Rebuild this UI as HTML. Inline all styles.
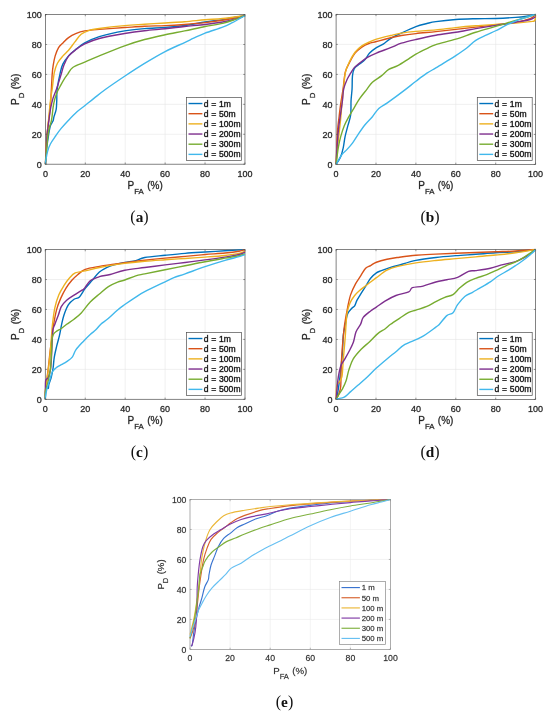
<!DOCTYPE html>
<html><head><meta charset="utf-8"><title>ROC curves</title>
<style>
html,body{margin:0;padding:0;background:#fff;}
body{width:550px;height:716px;overflow:hidden;}
svg{display:block;}
text{font-family:"Liberation Sans",Arial,Helvetica,sans-serif;fill:#222;stroke:#222;stroke-width:0.45;stroke-opacity:0.55;}
.grid{stroke:#e6e6e6;stroke-width:0.6;}
.box{fill:none;stroke:#5a5a5a;stroke-width:0.75;}
.tick{stroke:#4d4d4d;stroke-width:0.6;}
.leg{fill:#fff;stroke:#4d4d4d;stroke-width:0.7;}
.lt{fill:#0a0a0a;stroke:#0a0a0a;stroke-width:0.5;stroke-opacity:0.6;word-spacing:0.4px;}
.e text{fill:#2e2e2e;stroke:#2e2e2e;stroke-width:0.3;stroke-opacity:0.55;word-spacing:0;}
.e .box,.e .leg{stroke:#8a8a8a;stroke-width:0.7;}
.e .tick{stroke:#8a8a8a;}
.e .grid{stroke:#ebebeb;}
.e .cap{fill:#111;stroke:none;}
.cap{font-family:"Liberation Serif","DejaVu Serif",serif;font-size:15.3px;fill:#111;stroke:none;}
</style></head>
<body>
<svg width="550" height="716" viewBox="0 0 550 716">
<rect x="0" y="0" width="550" height="716" fill="#fff"/>
<g class="">
<rect x="45.40" y="14.55" width="199.55" height="149.65" fill="#fff"/>
<line x1="85.31" y1="14.55" x2="85.31" y2="164.20" class="grid"/>
<line x1="45.40" y1="44.48" x2="244.95" y2="44.48" class="grid"/>
<line x1="125.22" y1="14.55" x2="125.22" y2="164.20" class="grid"/>
<line x1="45.40" y1="74.41" x2="244.95" y2="74.41" class="grid"/>
<line x1="165.13" y1="14.55" x2="165.13" y2="164.20" class="grid"/>
<line x1="45.40" y1="104.34" x2="244.95" y2="104.34" class="grid"/>
<line x1="205.04" y1="14.55" x2="205.04" y2="164.20" class="grid"/>
<line x1="45.40" y1="134.27" x2="244.95" y2="134.27" class="grid"/>
<rect x="45.40" y="14.55" width="199.55" height="149.65" class="box"/>
<clipPath id="cp1"><rect x="44.40" y="13.55" width="201.55" height="151.65"/></clipPath>
<g clip-path="url(#cp1)" fill="none" stroke-width="1.40" stroke-linejoin="round" stroke-linecap="butt">
<path d="M45.40 164.20C45.63 161.46 46.26 152.63 46.80 147.74C47.33 142.85 47.99 138.54 48.59 134.87C49.19 131.20 49.66 128.03 50.39 125.74C51.12 123.45 52.38 122.62 52.98 121.10C53.58 119.58 53.45 118.58 53.98 116.61C54.51 114.64 55.71 112.02 56.18 109.28C56.64 106.53 56.61 103.52 56.77 100.15C56.94 96.78 56.57 93.74 57.17 89.08C57.77 84.41 59.40 76.36 60.37 72.17C61.33 67.98 61.60 66.65 62.96 63.93C64.32 61.22 66.42 58.27 68.55 55.85C70.68 53.43 73.04 51.56 75.73 49.42C78.43 47.27 80.79 45.10 84.71 42.98C88.64 40.86 92.63 38.72 99.28 36.70C105.93 34.68 117.07 32.21 124.62 30.86C132.17 29.52 137.82 29.19 144.58 28.62C151.33 28.04 158.46 27.94 165.13 27.42C171.80 26.90 177.93 26.37 184.59 25.47C191.24 24.58 198.70 23.01 205.04 22.03C211.38 21.06 217.55 20.46 222.60 19.64C227.66 18.82 231.65 17.77 235.37 17.09C239.10 16.42 243.35 15.85 244.95 15.60" stroke="#0072BD"/>
<path d="M45.40 164.20C45.67 159.31 46.36 142.80 47.00 134.87C47.63 126.94 48.59 121.95 49.19 116.61C49.79 111.27 50.22 107.43 50.59 102.84C50.95 98.25 51.12 93.81 51.39 89.08C51.65 84.34 51.89 78.35 52.18 74.41C52.48 70.47 52.68 68.52 53.18 65.43C53.68 62.34 54.28 58.82 55.18 55.85C56.08 52.89 57.27 49.77 58.57 47.62C59.87 45.48 61.30 44.65 62.96 42.98C64.62 41.31 66.42 39.17 68.55 37.60C70.68 36.02 73.04 34.68 75.73 33.56C78.43 32.43 80.79 31.56 84.71 30.86C88.64 30.16 92.63 29.91 99.28 29.37C105.93 28.82 117.07 28.09 124.62 27.57C132.17 27.05 137.82 26.55 144.58 26.22C151.33 25.90 158.46 25.92 165.13 25.62C171.80 25.32 177.93 24.93 184.59 24.43C191.24 23.93 198.70 23.33 205.04 22.63C211.38 21.93 217.55 21.03 222.60 20.24C227.66 19.44 231.65 18.62 235.37 17.84C239.10 17.07 243.35 15.97 244.95 15.60" stroke="#D95319"/>
<path d="M45.40 164.20C45.57 160.83 45.97 150.41 46.40 144.00C46.83 137.59 47.50 131.23 47.99 125.74C48.49 120.25 48.91 115.89 49.39 111.07C49.87 106.26 50.42 100.52 50.89 96.86C51.35 93.19 51.60 93.19 52.18 89.08C52.77 84.96 53.48 76.51 54.38 72.17C55.28 67.83 56.14 65.76 57.57 63.04C59.00 60.32 61.13 57.97 62.96 55.85C64.79 53.73 66.59 52.61 68.55 50.32C70.51 48.02 72.64 44.75 74.73 42.09C76.83 39.42 78.82 36.22 81.12 34.30C83.41 32.38 85.48 31.54 88.50 30.56C91.53 29.59 93.26 29.29 99.28 28.47C105.30 27.64 117.07 26.32 124.62 25.62C132.17 24.93 137.82 24.73 144.58 24.28C151.33 23.83 158.46 23.35 165.13 22.93C171.80 22.51 177.93 22.26 184.59 21.73C191.24 21.21 198.70 20.34 205.04 19.79C211.38 19.24 215.95 19.14 222.60 18.44C229.25 17.74 241.23 16.07 244.95 15.60" stroke="#EDB120"/>
<path d="M45.40 164.20C45.67 159.61 46.53 143.07 47.00 136.66C47.46 130.25 47.79 129.08 48.19 125.74C48.59 122.40 48.96 119.65 49.39 116.61C49.82 113.57 50.19 110.53 50.79 107.48C51.39 104.44 52.05 101.37 52.98 98.35C53.91 95.34 55.44 91.99 56.38 89.38C57.31 86.76 57.77 85.13 58.57 82.64C59.37 80.15 60.27 77.35 61.16 74.41C62.06 71.47 62.73 68.02 63.96 64.98C65.19 61.94 66.59 58.70 68.55 56.15C70.51 53.61 73.04 51.76 75.73 49.72C78.43 47.67 80.79 45.75 84.71 43.88C88.64 42.01 92.63 40.21 99.28 38.49C105.93 36.77 117.07 34.85 124.62 33.56C132.17 32.26 137.82 31.51 144.58 30.71C151.33 29.91 158.46 29.47 165.13 28.77C171.80 28.07 177.93 27.25 184.59 26.52C191.24 25.80 198.70 25.18 205.04 24.43C211.38 23.68 217.55 22.93 222.60 22.03C227.66 21.13 231.65 20.11 235.37 19.04C239.10 17.97 243.35 16.17 244.95 15.60" stroke="#7E2F8E"/>
<path d="M45.40 164.20C45.77 159.91 46.93 144.57 47.60 138.46C48.26 132.35 48.73 130.63 49.39 127.54C50.06 124.44 50.89 123.77 51.59 119.90C52.28 116.04 52.75 108.73 53.58 104.34C54.41 99.95 55.38 96.76 56.57 93.57C57.77 90.37 59.47 87.63 60.77 85.18C62.06 82.74 63.19 80.75 64.36 78.90C65.52 77.05 66.35 76.01 67.75 74.11C69.15 72.22 69.91 69.52 72.74 67.53C75.57 65.53 80.29 64.08 84.71 62.14C89.13 60.19 92.63 58.57 99.28 55.85C105.93 53.13 117.07 48.55 124.62 45.83C132.17 43.11 137.82 41.39 144.58 39.54C151.33 37.70 158.46 36.20 165.13 34.75C171.80 33.31 177.93 32.23 184.59 30.86C191.24 29.49 198.70 27.77 205.04 26.52C211.38 25.27 217.55 24.58 222.60 23.38C227.66 22.18 231.65 20.64 235.37 19.34C239.10 18.04 243.35 16.22 244.95 15.60" stroke="#77AC30"/>
<path d="M45.40 164.20C45.47 163.58 45.43 162.60 45.80 160.46C46.16 158.31 46.83 154.07 47.60 151.33C48.36 148.59 49.03 146.59 50.39 144.00C51.75 141.40 53.98 138.36 55.78 135.77C57.57 133.17 59.04 131.03 61.16 128.43C63.29 125.84 65.95 122.95 68.55 120.20C71.14 117.46 74.04 114.39 76.73 111.97C79.42 109.55 81.85 107.96 84.71 105.69C87.57 103.42 90.40 101.10 93.89 98.35C97.38 95.61 100.54 92.92 105.66 89.23C110.79 85.53 118.14 80.52 124.62 76.21C131.11 71.89 137.82 67.45 144.58 63.34C151.33 59.22 158.46 54.98 165.13 51.51C171.80 48.05 179.83 44.75 184.59 42.53C189.34 40.31 190.26 39.77 193.67 38.19C197.07 36.62 200.22 34.95 205.04 33.11C209.86 31.26 218.14 28.82 222.60 27.12C227.06 25.42 228.89 24.38 231.78 22.93C234.67 21.48 237.77 19.64 239.96 18.44C242.16 17.24 244.12 16.20 244.95 15.75" stroke="#41B8EC"/>
</g>
<line x1="45.40" y1="164.20" x2="45.40" y2="162.50" class="tick"/>
<line x1="45.40" y1="14.55" x2="45.40" y2="16.25" class="tick"/>
<line x1="45.40" y1="164.20" x2="47.10" y2="164.20" class="tick"/>
<line x1="244.95" y1="164.20" x2="243.25" y2="164.20" class="tick"/>
<text x="45.40" y="176.60" font-size="9.00" text-anchor="middle">0</text>
<text x="41.80" y="167.50" font-size="9.00" text-anchor="end">0</text>
<line x1="85.31" y1="164.20" x2="85.31" y2="162.50" class="tick"/>
<line x1="85.31" y1="14.55" x2="85.31" y2="16.25" class="tick"/>
<line x1="45.40" y1="134.27" x2="47.10" y2="134.27" class="tick"/>
<line x1="244.95" y1="134.27" x2="243.25" y2="134.27" class="tick"/>
<text x="85.31" y="176.60" font-size="9.00" text-anchor="middle">20</text>
<text x="41.80" y="137.57" font-size="9.00" text-anchor="end">20</text>
<line x1="125.22" y1="164.20" x2="125.22" y2="162.50" class="tick"/>
<line x1="125.22" y1="14.55" x2="125.22" y2="16.25" class="tick"/>
<line x1="45.40" y1="104.34" x2="47.10" y2="104.34" class="tick"/>
<line x1="244.95" y1="104.34" x2="243.25" y2="104.34" class="tick"/>
<text x="125.22" y="176.60" font-size="9.00" text-anchor="middle">40</text>
<text x="41.80" y="107.64" font-size="9.00" text-anchor="end">40</text>
<line x1="165.13" y1="164.20" x2="165.13" y2="162.50" class="tick"/>
<line x1="165.13" y1="14.55" x2="165.13" y2="16.25" class="tick"/>
<line x1="45.40" y1="74.41" x2="47.10" y2="74.41" class="tick"/>
<line x1="244.95" y1="74.41" x2="243.25" y2="74.41" class="tick"/>
<text x="165.13" y="176.60" font-size="9.00" text-anchor="middle">60</text>
<text x="41.80" y="77.71" font-size="9.00" text-anchor="end">60</text>
<line x1="205.04" y1="164.20" x2="205.04" y2="162.50" class="tick"/>
<line x1="205.04" y1="14.55" x2="205.04" y2="16.25" class="tick"/>
<line x1="45.40" y1="44.48" x2="47.10" y2="44.48" class="tick"/>
<line x1="244.95" y1="44.48" x2="243.25" y2="44.48" class="tick"/>
<text x="205.04" y="176.60" font-size="9.00" text-anchor="middle">80</text>
<text x="41.80" y="47.78" font-size="9.00" text-anchor="end">80</text>
<line x1="244.95" y1="164.20" x2="244.95" y2="162.50" class="tick"/>
<line x1="244.95" y1="14.55" x2="244.95" y2="16.25" class="tick"/>
<line x1="45.40" y1="14.55" x2="47.10" y2="14.55" class="tick"/>
<line x1="244.95" y1="14.55" x2="243.25" y2="14.55" class="tick"/>
<text x="244.95" y="176.60" font-size="9.00" text-anchor="middle">100</text>
<text x="41.80" y="17.85" font-size="9.00" text-anchor="end">100</text>
<text x="145.18" y="189.20" font-size="10.00" text-anchor="middle">P<tspan font-size="7.80" dy="4.8">FA</tspan><tspan dy="-4.8" dx="0.6"> (%)</tspan></text>
<text transform="translate(19.00 89.38) rotate(-90)" font-size="10.00" text-anchor="middle">P<tspan font-size="7.80" dy="4.8">D</tspan><tspan dy="-4.8" dx="0.6"> (%)</tspan></text>
<rect x="186.50" y="97.45" width="54.90" height="63.00" class="leg"/>
<line x1="188.50" y1="103.53" x2="202.40" y2="103.53" stroke="#0072BD" stroke-width="1.40"/>
<text x="203.70" y="106.59" font-size="8.60" class="lt">d = 1m</text>
<line x1="188.50" y1="113.70" x2="202.40" y2="113.70" stroke="#D95319" stroke-width="1.40"/>
<text x="203.70" y="116.75" font-size="8.60" class="lt">d = 50m</text>
<line x1="188.50" y1="123.87" x2="202.40" y2="123.87" stroke="#EDB120" stroke-width="1.40"/>
<text x="203.70" y="126.92" font-size="8.60" class="lt">d = 100m</text>
<line x1="188.50" y1="134.03" x2="202.40" y2="134.03" stroke="#7E2F8E" stroke-width="1.40"/>
<text x="203.70" y="137.09" font-size="8.60" class="lt">d = 200m</text>
<line x1="188.50" y1="144.20" x2="202.40" y2="144.20" stroke="#77AC30" stroke-width="1.40"/>
<text x="203.70" y="147.25" font-size="8.60" class="lt">d = 300m</text>
<line x1="188.50" y1="154.37" x2="202.40" y2="154.37" stroke="#41B8EC" stroke-width="1.40"/>
<text x="203.70" y="157.42" font-size="8.60" class="lt">d = 500m</text>
<text x="139.50" y="222.00" class="cap" text-anchor="middle"><tspan font-size="16">(</tspan><tspan font-weight="bold">a</tspan><tspan font-size="16">)</tspan></text>
</g>
<g class="">
<rect x="336.10" y="14.40" width="199.50" height="150.00" fill="#fff"/>
<line x1="376.00" y1="14.40" x2="376.00" y2="164.40" class="grid"/>
<line x1="336.10" y1="44.40" x2="535.60" y2="44.40" class="grid"/>
<line x1="415.90" y1="14.40" x2="415.90" y2="164.40" class="grid"/>
<line x1="336.10" y1="74.40" x2="535.60" y2="74.40" class="grid"/>
<line x1="455.80" y1="14.40" x2="455.80" y2="164.40" class="grid"/>
<line x1="336.10" y1="104.40" x2="535.60" y2="104.40" class="grid"/>
<line x1="495.70" y1="14.40" x2="495.70" y2="164.40" class="grid"/>
<line x1="336.10" y1="134.40" x2="535.60" y2="134.40" class="grid"/>
<rect x="336.10" y="14.40" width="199.50" height="150.00" class="box"/>
<clipPath id="cp2"><rect x="335.10" y="13.40" width="201.50" height="152.00"/></clipPath>
<g clip-path="url(#cp2)" fill="none" stroke-width="1.40" stroke-linejoin="round" stroke-linecap="butt">
<path d="M336.10 164.40C336.86 163.10 339.49 159.40 340.69 156.60C341.89 153.80 342.55 150.92 343.28 147.60C344.01 144.28 344.31 140.30 345.08 136.65C345.84 133.00 346.94 129.32 347.87 125.70C348.80 122.08 350.13 119.12 350.66 114.90C351.20 110.68 350.83 104.68 351.06 100.35C351.30 96.03 351.83 93.03 352.06 88.95C352.29 84.88 352.09 79.30 352.46 75.90C352.82 72.50 353.06 70.53 354.25 68.55C355.45 66.58 357.85 65.55 359.64 64.05C361.44 62.55 363.37 61.38 365.03 59.55C366.69 57.73 367.72 55.08 369.62 53.10C371.51 51.13 374.14 49.20 376.40 47.70C378.66 46.20 380.82 45.63 383.18 44.10C385.54 42.58 387.54 40.38 390.56 38.55C393.59 36.73 397.11 35.13 401.34 33.15C405.56 31.18 411.64 28.30 415.90 26.70C420.16 25.10 423.55 24.40 426.87 23.55C430.20 22.70 431.03 22.27 435.85 21.60C440.67 20.92 449.15 19.97 455.80 19.50C462.45 19.03 469.10 18.92 475.75 18.75C482.40 18.58 489.05 18.68 495.70 18.45C502.35 18.23 510.50 17.78 515.65 17.40C520.80 17.03 523.30 16.70 526.62 16.20C529.95 15.70 534.10 14.70 535.60 14.40" stroke="#0072BD"/>
<path d="M336.10 164.40C336.33 158.90 337.03 139.05 337.50 131.40C337.96 123.75 338.36 123.08 338.89 118.50C339.43 113.92 339.99 108.88 340.69 103.95C341.39 99.03 342.32 94.25 343.08 88.95C343.85 83.65 344.18 76.60 345.28 72.15C346.37 67.70 348.04 65.42 349.67 62.25C351.30 59.08 353.02 55.63 355.05 53.10C357.08 50.58 359.54 48.70 361.84 47.10C364.13 45.50 366.39 44.42 368.82 43.50C371.25 42.58 372.77 42.50 376.40 41.55C380.02 40.60 386.41 38.80 390.56 37.80C394.72 36.80 397.11 36.25 401.34 35.55C405.56 34.85 410.15 34.25 415.90 33.60C421.65 32.95 429.20 32.35 435.85 31.65C442.50 30.95 449.15 30.15 455.80 29.40C462.45 28.65 469.10 27.90 475.75 27.15C482.40 26.40 489.05 25.73 495.70 24.90C502.35 24.08 509.90 23.25 515.65 22.20C521.40 21.15 526.89 19.90 530.21 18.60C533.54 17.30 534.70 15.10 535.60 14.40" stroke="#D95319"/>
<path d="M336.10 164.40C336.27 162.20 336.63 156.13 337.10 151.20C337.56 146.28 338.29 140.30 338.89 134.85C339.49 129.40 340.19 123.65 340.69 118.50C341.19 113.35 341.42 108.88 341.89 103.95C342.35 99.03 342.88 94.25 343.48 88.95C344.08 83.65 344.45 76.75 345.48 72.15C346.51 67.55 348.07 64.68 349.67 61.35C351.26 58.03 353.02 54.78 355.05 52.20C357.08 49.62 359.54 47.58 361.84 45.90C364.13 44.23 366.39 43.28 368.82 42.15C371.25 41.03 372.77 40.25 376.40 39.15C380.02 38.05 386.41 36.55 390.56 35.55C394.72 34.55 397.11 33.85 401.34 33.15C405.56 32.45 410.15 31.90 415.90 31.35C421.65 30.80 429.20 30.47 435.85 29.85C442.50 29.22 449.15 28.27 455.80 27.60C462.45 26.92 469.10 26.33 475.75 25.80C482.40 25.28 489.05 24.90 495.70 24.45C502.35 24.00 509.90 23.57 515.65 23.10C521.40 22.62 527.05 22.00 530.21 21.60C533.37 21.20 533.70 21.73 534.60 20.70C535.50 19.68 535.43 16.33 535.60 15.45" stroke="#EDB120"/>
<path d="M336.10 164.40C336.33 160.40 337.03 146.85 337.50 140.40C337.96 133.95 338.36 130.25 338.89 125.70C339.43 121.15 340.09 117.33 340.69 113.10C341.29 108.88 341.99 104.38 342.48 100.35C342.98 96.33 342.92 92.43 343.68 88.95C344.45 85.47 345.91 82.12 347.07 79.50C348.24 76.88 349.47 75.17 350.66 73.20C351.86 71.23 352.76 69.33 354.25 67.65C355.75 65.98 357.51 64.83 359.64 63.15C361.77 61.48 364.23 59.28 367.02 57.60C369.82 55.93 372.48 54.75 376.40 53.10C380.32 51.45 386.41 49.35 390.56 47.70C394.72 46.05 397.11 44.58 401.34 43.20C405.56 41.83 410.15 40.78 415.90 39.45C421.65 38.12 429.20 36.45 435.85 35.25C442.50 34.05 449.15 33.35 455.80 32.25C462.45 31.15 469.10 29.80 475.75 28.65C482.40 27.50 489.05 26.42 495.70 25.35C502.35 24.27 509.90 23.18 515.65 22.20C521.40 21.23 526.89 20.43 530.21 19.50C533.54 18.57 534.70 17.13 535.60 16.65" stroke="#7E2F8E"/>
<path d="M336.10 164.40C336.47 161.60 337.53 152.22 338.29 147.60C339.06 142.97 339.69 140.30 340.69 136.65C341.69 133.00 342.92 129.03 344.28 125.70C345.64 122.38 347.21 119.72 348.87 116.70C350.53 113.68 352.46 110.58 354.25 107.55C356.05 104.53 357.51 101.63 359.64 98.55C361.77 95.48 364.89 91.83 367.02 89.10C369.15 86.38 370.01 84.40 372.41 82.20C374.80 80.00 378.66 78.03 381.39 75.90C384.11 73.78 386.04 71.15 388.77 69.45C391.49 67.75 394.42 67.47 397.75 65.70C401.07 63.93 405.69 60.73 408.72 58.80C411.74 56.88 412.87 55.85 415.90 54.15C418.93 52.45 423.55 50.18 426.87 48.60C430.20 47.03 431.03 46.28 435.85 44.70C440.67 43.12 449.15 41.23 455.80 39.15C462.45 37.08 469.10 34.38 475.75 32.25C482.40 30.12 489.05 28.38 495.70 26.40C502.35 24.43 510.50 21.93 515.65 20.40C520.80 18.88 523.30 18.25 526.62 17.25C529.95 16.25 534.10 14.88 535.60 14.40" stroke="#77AC30"/>
<path d="M336.10 164.40C336.57 163.58 337.83 161.20 338.89 159.45C339.96 157.70 341.12 155.58 342.48 153.90C343.85 152.22 345.41 151.20 347.07 149.40C348.74 147.60 350.66 145.53 352.46 143.10C354.25 140.67 355.75 137.90 357.85 134.85C359.94 131.80 362.60 127.83 365.03 124.80C367.45 121.78 370.11 119.43 372.41 116.70C374.70 113.97 376.37 110.72 378.79 108.45C381.22 106.18 384.11 105.03 386.97 103.05C389.83 101.08 392.79 98.93 395.95 96.60C399.11 94.28 402.60 91.65 405.93 89.10C409.25 86.55 412.41 83.95 415.90 81.30C419.39 78.65 423.55 75.43 426.87 73.20C430.20 70.97 432.53 69.95 435.85 67.95C439.18 65.95 443.50 63.25 446.82 61.20C450.15 59.15 452.48 57.85 455.80 55.65C459.12 53.45 463.45 50.55 466.77 48.00C470.10 45.45 472.43 42.53 475.75 40.35C479.07 38.18 483.40 36.55 486.72 34.95C490.05 33.35 492.38 32.43 495.70 30.75C499.03 29.07 503.35 26.53 506.67 24.90C510.00 23.28 512.33 22.28 515.65 21.00C518.98 19.72 523.30 18.35 526.62 17.25C529.95 16.15 534.10 14.88 535.60 14.40" stroke="#41B8EC"/>
</g>
<line x1="336.10" y1="164.40" x2="336.10" y2="162.70" class="tick"/>
<line x1="336.10" y1="14.40" x2="336.10" y2="16.10" class="tick"/>
<line x1="336.10" y1="164.40" x2="337.80" y2="164.40" class="tick"/>
<line x1="535.60" y1="164.40" x2="533.90" y2="164.40" class="tick"/>
<text x="336.10" y="176.80" font-size="9.00" text-anchor="middle">0</text>
<text x="332.50" y="167.70" font-size="9.00" text-anchor="end">0</text>
<line x1="376.00" y1="164.40" x2="376.00" y2="162.70" class="tick"/>
<line x1="376.00" y1="14.40" x2="376.00" y2="16.10" class="tick"/>
<line x1="336.10" y1="134.40" x2="337.80" y2="134.40" class="tick"/>
<line x1="535.60" y1="134.40" x2="533.90" y2="134.40" class="tick"/>
<text x="376.00" y="176.80" font-size="9.00" text-anchor="middle">20</text>
<text x="332.50" y="137.70" font-size="9.00" text-anchor="end">20</text>
<line x1="415.90" y1="164.40" x2="415.90" y2="162.70" class="tick"/>
<line x1="415.90" y1="14.40" x2="415.90" y2="16.10" class="tick"/>
<line x1="336.10" y1="104.40" x2="337.80" y2="104.40" class="tick"/>
<line x1="535.60" y1="104.40" x2="533.90" y2="104.40" class="tick"/>
<text x="415.90" y="176.80" font-size="9.00" text-anchor="middle">40</text>
<text x="332.50" y="107.70" font-size="9.00" text-anchor="end">40</text>
<line x1="455.80" y1="164.40" x2="455.80" y2="162.70" class="tick"/>
<line x1="455.80" y1="14.40" x2="455.80" y2="16.10" class="tick"/>
<line x1="336.10" y1="74.40" x2="337.80" y2="74.40" class="tick"/>
<line x1="535.60" y1="74.40" x2="533.90" y2="74.40" class="tick"/>
<text x="455.80" y="176.80" font-size="9.00" text-anchor="middle">60</text>
<text x="332.50" y="77.70" font-size="9.00" text-anchor="end">60</text>
<line x1="495.70" y1="164.40" x2="495.70" y2="162.70" class="tick"/>
<line x1="495.70" y1="14.40" x2="495.70" y2="16.10" class="tick"/>
<line x1="336.10" y1="44.40" x2="337.80" y2="44.40" class="tick"/>
<line x1="535.60" y1="44.40" x2="533.90" y2="44.40" class="tick"/>
<text x="495.70" y="176.80" font-size="9.00" text-anchor="middle">80</text>
<text x="332.50" y="47.70" font-size="9.00" text-anchor="end">80</text>
<line x1="535.60" y1="164.40" x2="535.60" y2="162.70" class="tick"/>
<line x1="535.60" y1="14.40" x2="535.60" y2="16.10" class="tick"/>
<line x1="336.10" y1="14.40" x2="337.80" y2="14.40" class="tick"/>
<line x1="535.60" y1="14.40" x2="533.90" y2="14.40" class="tick"/>
<text x="535.60" y="176.80" font-size="9.00" text-anchor="middle">100</text>
<text x="332.50" y="17.70" font-size="9.00" text-anchor="end">100</text>
<text x="435.85" y="189.40" font-size="10.00" text-anchor="middle">P<tspan font-size="7.80" dy="4.8">FA</tspan><tspan dy="-4.8" dx="0.6"> (%)</tspan></text>
<text transform="translate(309.70 89.40) rotate(-90)" font-size="10.00" text-anchor="middle">P<tspan font-size="7.80" dy="4.8">D</tspan><tspan dy="-4.8" dx="0.6"> (%)</tspan></text>
<rect x="477.30" y="97.45" width="54.90" height="63.00" class="leg"/>
<line x1="479.30" y1="103.53" x2="493.20" y2="103.53" stroke="#0072BD" stroke-width="1.40"/>
<text x="494.50" y="106.59" font-size="8.60" class="lt">d = 1m</text>
<line x1="479.30" y1="113.70" x2="493.20" y2="113.70" stroke="#D95319" stroke-width="1.40"/>
<text x="494.50" y="116.75" font-size="8.60" class="lt">d = 50m</text>
<line x1="479.30" y1="123.87" x2="493.20" y2="123.87" stroke="#EDB120" stroke-width="1.40"/>
<text x="494.50" y="126.92" font-size="8.60" class="lt">d = 100m</text>
<line x1="479.30" y1="134.03" x2="493.20" y2="134.03" stroke="#7E2F8E" stroke-width="1.40"/>
<text x="494.50" y="137.09" font-size="8.60" class="lt">d = 200m</text>
<line x1="479.30" y1="144.20" x2="493.20" y2="144.20" stroke="#77AC30" stroke-width="1.40"/>
<text x="494.50" y="147.25" font-size="8.60" class="lt">d = 300m</text>
<line x1="479.30" y1="154.37" x2="493.20" y2="154.37" stroke="#41B8EC" stroke-width="1.40"/>
<text x="494.50" y="157.42" font-size="8.60" class="lt">d = 500m</text>
<text x="430.00" y="222.00" class="cap" text-anchor="middle"><tspan font-size="16">(</tspan><tspan font-weight="bold">b</tspan><tspan font-size="16">)</tspan></text>
</g>
<g class="">
<rect x="45.30" y="249.60" width="199.70" height="149.70" fill="#fff"/>
<line x1="85.24" y1="249.60" x2="85.24" y2="399.30" class="grid"/>
<line x1="45.30" y1="279.54" x2="245.00" y2="279.54" class="grid"/>
<line x1="125.18" y1="249.60" x2="125.18" y2="399.30" class="grid"/>
<line x1="45.30" y1="309.48" x2="245.00" y2="309.48" class="grid"/>
<line x1="165.12" y1="249.60" x2="165.12" y2="399.30" class="grid"/>
<line x1="45.30" y1="339.42" x2="245.00" y2="339.42" class="grid"/>
<line x1="205.06" y1="249.60" x2="205.06" y2="399.30" class="grid"/>
<line x1="45.30" y1="369.36" x2="245.00" y2="369.36" class="grid"/>
<rect x="45.30" y="249.60" width="199.70" height="149.70" class="box"/>
<clipPath id="cp3"><rect x="44.30" y="248.60" width="201.70" height="151.70"/></clipPath>
<g clip-path="url(#cp3)" fill="none" stroke-width="1.40" stroke-linejoin="round" stroke-linecap="butt">
<path d="M45.30 399.30C45.40 397.43 45.67 390.12 45.90 388.07C46.13 386.03 46.30 386.97 46.70 387.02C47.10 387.07 47.93 388.82 48.30 388.37C48.66 387.92 48.40 386.20 48.89 384.33C49.39 382.46 50.59 379.86 51.29 377.14C51.99 374.42 52.59 371.36 53.09 368.01C53.59 364.67 53.69 360.73 54.29 357.08C54.89 353.44 55.82 349.77 56.68 346.16C57.55 342.54 58.65 339.05 59.48 335.38C60.31 331.71 60.91 327.59 61.68 324.15C62.44 320.71 62.94 317.96 64.07 314.72C65.20 311.48 66.80 307.26 68.47 304.69C70.13 302.12 72.23 300.60 74.06 299.30C75.89 298.00 77.58 298.73 79.45 296.91C81.31 295.08 83.11 291.14 85.24 288.37C87.37 285.60 89.87 283.01 92.23 280.29C94.59 277.57 97.02 274.18 99.42 272.05C101.82 269.93 104.18 268.76 106.61 267.56C109.04 266.37 110.97 265.72 114.00 264.87C117.03 264.02 121.15 263.17 124.78 262.47C128.41 261.78 132.44 261.50 135.76 260.68C139.09 259.85 139.86 258.43 144.75 257.53C149.64 256.64 158.40 255.99 165.12 255.29C171.84 254.59 178.43 253.89 185.09 253.34C191.75 252.79 198.40 252.42 205.06 252.00C211.72 251.57 218.37 251.20 225.03 250.80C231.69 250.40 241.67 249.80 245.00 249.60" stroke="#0072BD"/>
<path d="M45.30 399.30C45.30 398.05 45.07 394.91 45.30 391.81C45.53 388.72 46.17 385.00 46.70 380.74C47.23 376.47 47.90 371.36 48.50 366.22C49.09 361.08 49.66 355.04 50.29 349.90C50.92 344.76 51.72 339.67 52.29 335.38C52.86 331.09 52.96 328.49 53.69 324.15C54.42 319.81 55.52 313.62 56.68 309.33C57.85 305.04 59.15 301.90 60.68 298.40C62.21 294.91 64.01 291.39 65.87 288.37C67.73 285.35 69.90 282.56 71.86 280.29C73.82 278.02 75.42 276.57 77.65 274.75C79.88 272.93 81.61 270.76 85.24 269.36C88.87 267.96 94.63 267.21 99.42 266.37C104.21 265.52 109.77 264.89 114.00 264.27C118.22 263.65 119.65 263.30 124.78 262.62C129.91 261.95 138.03 260.98 144.75 260.23C151.47 259.48 158.40 258.78 165.12 258.13C171.84 257.48 178.43 256.94 185.09 256.34C191.75 255.74 198.40 255.09 205.06 254.54C211.72 253.99 219.37 253.59 225.03 253.04C230.69 252.49 235.68 251.82 239.01 251.25C242.34 250.67 244.00 249.87 245.00 249.60" stroke="#D95319"/>
<path d="M45.30 399.30C45.30 398.05 45.13 394.31 45.30 391.81C45.47 389.32 45.80 388.00 46.30 384.33C46.80 380.66 47.66 374.95 48.30 369.81C48.93 364.67 49.59 358.63 50.09 353.49C50.59 348.35 50.89 343.86 51.29 338.97C51.69 334.08 51.89 329.39 52.49 324.15C53.09 318.91 53.82 312.42 54.89 307.53C55.95 302.64 57.38 298.45 58.88 294.81C60.38 291.17 62.07 288.52 63.87 285.68C65.67 282.83 67.77 279.86 69.66 277.74C71.56 275.62 72.66 274.10 75.25 272.95C77.85 271.81 81.21 271.76 85.24 270.86C89.27 269.96 94.63 268.56 99.42 267.56C104.21 266.57 109.77 265.57 114.00 264.87C118.22 264.17 119.65 263.97 124.78 263.37C129.91 262.77 138.03 261.88 144.75 261.28C151.47 260.68 158.40 260.25 165.12 259.78C171.84 259.31 178.43 258.88 185.09 258.43C191.75 257.98 198.40 257.58 205.06 257.08C211.72 256.59 219.37 256.06 225.03 255.44C230.69 254.81 235.68 254.07 239.01 253.34C242.34 252.62 244.00 251.47 245.00 251.10" stroke="#EDB120"/>
<path d="M45.30 399.30C45.30 397.80 45.23 393.44 45.30 390.32C45.37 387.20 45.20 382.71 45.70 380.59C46.20 378.47 47.50 379.46 48.30 377.59C49.09 375.72 49.99 372.28 50.49 369.36C50.99 366.44 51.06 363.57 51.29 360.08C51.52 356.59 51.72 351.85 51.89 348.40C52.06 344.96 52.12 342.54 52.29 339.42C52.46 336.30 52.46 332.23 52.89 329.69C53.32 327.14 53.95 326.65 54.89 324.15C55.82 321.66 57.42 317.64 58.48 314.72C59.55 311.80 59.91 309.06 61.28 306.64C62.64 304.22 64.54 302.12 66.67 300.20C68.80 298.28 71.63 296.71 74.06 295.11C76.49 293.51 79.58 291.67 81.25 290.62C82.91 289.57 82.54 290.47 84.04 288.82C85.54 287.17 87.67 282.76 90.23 280.74C92.80 278.72 96.09 277.74 99.42 276.70C102.75 275.65 105.98 275.52 110.20 274.45C114.43 273.38 119.02 271.41 124.78 270.26C130.54 269.11 138.03 268.46 144.75 267.56C151.47 266.67 158.40 265.72 165.12 264.87C171.84 264.02 178.43 263.30 185.09 262.47C191.75 261.65 198.40 260.83 205.06 259.93C211.72 259.03 219.37 257.98 225.03 257.08C230.69 256.19 235.68 255.36 239.01 254.54C242.34 253.72 244.00 252.54 245.00 252.14" stroke="#7E2F8E"/>
<path d="M45.30 399.30C45.30 398.05 44.87 394.61 45.30 391.81C45.73 389.02 47.06 386.20 47.90 382.53C48.73 378.87 49.76 373.55 50.29 369.81C50.83 366.07 50.86 363.65 51.09 360.08C51.32 356.51 51.52 351.85 51.69 348.40C51.86 344.96 51.79 341.79 52.09 339.42C52.39 337.05 52.72 335.55 53.49 334.18C54.25 332.81 55.38 332.13 56.68 331.19C57.98 330.24 59.61 329.64 61.28 328.49C62.94 327.34 64.54 325.85 66.67 324.30C68.80 322.75 71.63 321.11 74.06 319.21C76.49 317.31 78.55 315.79 81.25 312.92C83.94 310.05 87.20 305.16 90.23 301.99C93.26 298.83 96.39 296.48 99.42 293.91C102.45 291.34 105.38 288.55 108.41 286.58C111.43 284.60 114.86 283.18 117.59 282.08C120.32 280.99 121.75 281.04 124.78 279.99C127.81 278.94 132.44 276.82 135.76 275.80C139.09 274.77 139.86 274.85 144.75 273.85C149.64 272.85 158.40 271.16 165.12 269.81C171.84 268.46 178.43 267.11 185.09 265.77C191.75 264.42 198.40 263.00 205.06 261.73C211.72 260.45 219.37 259.13 225.03 258.13C230.69 257.13 235.68 256.44 239.01 255.74C242.34 255.04 244.00 254.24 245.00 253.94" stroke="#77AC30"/>
<path d="M45.30 399.30C45.30 399.08 45.07 399.55 45.30 397.95C45.53 396.36 46.00 392.59 46.70 389.72C47.40 386.85 48.56 383.68 49.49 380.74C50.43 377.79 51.22 374.18 52.29 372.05C53.35 369.93 54.39 369.24 55.88 368.01C57.38 366.79 59.48 365.79 61.28 364.72C63.07 363.65 64.84 362.85 66.67 361.58C68.50 360.30 70.73 359.03 72.26 357.08C73.79 355.14 74.06 352.47 75.85 349.90C77.65 347.33 80.65 344.24 83.04 341.67C85.44 339.10 88.10 336.45 90.23 334.48C92.36 332.51 94.06 331.54 95.82 329.84C97.59 328.14 98.85 326.10 100.82 324.30C102.78 322.50 104.81 321.46 107.61 319.06C110.40 316.67 114.73 312.35 117.59 309.93C120.45 307.51 121.75 306.69 124.78 304.54C127.81 302.39 132.44 299.20 135.76 297.05C139.09 294.91 139.86 294.21 144.75 291.67C149.64 289.12 160.26 284.13 165.12 281.79C169.98 279.44 170.58 278.92 173.91 277.59C177.24 276.27 179.90 275.67 185.09 273.85C190.28 272.03 198.40 268.91 205.06 266.67C211.72 264.42 219.37 262.05 225.03 260.38C230.69 258.71 235.68 257.61 239.01 256.64C242.34 255.66 244.00 254.89 245.00 254.54" stroke="#41B8EC"/>
</g>
<line x1="45.30" y1="399.30" x2="45.30" y2="397.60" class="tick"/>
<line x1="45.30" y1="249.60" x2="45.30" y2="251.30" class="tick"/>
<line x1="45.30" y1="399.30" x2="47.00" y2="399.30" class="tick"/>
<line x1="245.00" y1="399.30" x2="243.30" y2="399.30" class="tick"/>
<text x="45.30" y="411.70" font-size="9.00" text-anchor="middle">0</text>
<text x="41.70" y="402.60" font-size="9.00" text-anchor="end">0</text>
<line x1="85.24" y1="399.30" x2="85.24" y2="397.60" class="tick"/>
<line x1="85.24" y1="249.60" x2="85.24" y2="251.30" class="tick"/>
<line x1="45.30" y1="369.36" x2="47.00" y2="369.36" class="tick"/>
<line x1="245.00" y1="369.36" x2="243.30" y2="369.36" class="tick"/>
<text x="85.24" y="411.70" font-size="9.00" text-anchor="middle">20</text>
<text x="41.70" y="372.66" font-size="9.00" text-anchor="end">20</text>
<line x1="125.18" y1="399.30" x2="125.18" y2="397.60" class="tick"/>
<line x1="125.18" y1="249.60" x2="125.18" y2="251.30" class="tick"/>
<line x1="45.30" y1="339.42" x2="47.00" y2="339.42" class="tick"/>
<line x1="245.00" y1="339.42" x2="243.30" y2="339.42" class="tick"/>
<text x="125.18" y="411.70" font-size="9.00" text-anchor="middle">40</text>
<text x="41.70" y="342.72" font-size="9.00" text-anchor="end">40</text>
<line x1="165.12" y1="399.30" x2="165.12" y2="397.60" class="tick"/>
<line x1="165.12" y1="249.60" x2="165.12" y2="251.30" class="tick"/>
<line x1="45.30" y1="309.48" x2="47.00" y2="309.48" class="tick"/>
<line x1="245.00" y1="309.48" x2="243.30" y2="309.48" class="tick"/>
<text x="165.12" y="411.70" font-size="9.00" text-anchor="middle">60</text>
<text x="41.70" y="312.78" font-size="9.00" text-anchor="end">60</text>
<line x1="205.06" y1="399.30" x2="205.06" y2="397.60" class="tick"/>
<line x1="205.06" y1="249.60" x2="205.06" y2="251.30" class="tick"/>
<line x1="45.30" y1="279.54" x2="47.00" y2="279.54" class="tick"/>
<line x1="245.00" y1="279.54" x2="243.30" y2="279.54" class="tick"/>
<text x="205.06" y="411.70" font-size="9.00" text-anchor="middle">80</text>
<text x="41.70" y="282.84" font-size="9.00" text-anchor="end">80</text>
<line x1="245.00" y1="399.30" x2="245.00" y2="397.60" class="tick"/>
<line x1="245.00" y1="249.60" x2="245.00" y2="251.30" class="tick"/>
<line x1="45.30" y1="249.60" x2="47.00" y2="249.60" class="tick"/>
<line x1="245.00" y1="249.60" x2="243.30" y2="249.60" class="tick"/>
<text x="245.00" y="411.70" font-size="9.00" text-anchor="middle">100</text>
<text x="41.70" y="252.90" font-size="9.00" text-anchor="end">100</text>
<text x="145.15" y="424.30" font-size="10.00" text-anchor="middle">P<tspan font-size="7.80" dy="4.8">FA</tspan><tspan dy="-4.8" dx="0.6"> (%)</tspan></text>
<text transform="translate(18.90 324.45) rotate(-90)" font-size="10.00" text-anchor="middle">P<tspan font-size="7.80" dy="4.8">D</tspan><tspan dy="-4.8" dx="0.6"> (%)</tspan></text>
<rect x="186.50" y="332.45" width="54.90" height="63.00" class="leg"/>
<line x1="188.50" y1="338.53" x2="202.40" y2="338.53" stroke="#0072BD" stroke-width="1.40"/>
<text x="203.70" y="341.59" font-size="8.60" class="lt">d = 1m</text>
<line x1="188.50" y1="348.70" x2="202.40" y2="348.70" stroke="#D95319" stroke-width="1.40"/>
<text x="203.70" y="351.75" font-size="8.60" class="lt">d = 50m</text>
<line x1="188.50" y1="358.87" x2="202.40" y2="358.87" stroke="#EDB120" stroke-width="1.40"/>
<text x="203.70" y="361.92" font-size="8.60" class="lt">d = 100m</text>
<line x1="188.50" y1="369.03" x2="202.40" y2="369.03" stroke="#7E2F8E" stroke-width="1.40"/>
<text x="203.70" y="372.09" font-size="8.60" class="lt">d = 200m</text>
<line x1="188.50" y1="379.20" x2="202.40" y2="379.20" stroke="#77AC30" stroke-width="1.40"/>
<text x="203.70" y="382.25" font-size="8.60" class="lt">d = 300m</text>
<line x1="188.50" y1="389.37" x2="202.40" y2="389.37" stroke="#41B8EC" stroke-width="1.40"/>
<text x="203.70" y="392.42" font-size="8.60" class="lt">d = 500m</text>
<text x="139.50" y="457.00" class="cap" text-anchor="middle"><tspan font-size="16">(</tspan><tspan font-weight="bold">c</tspan><tspan font-size="16">)</tspan></text>
</g>
<g class="">
<rect x="336.10" y="249.50" width="199.50" height="149.90" fill="#fff"/>
<line x1="376.00" y1="249.50" x2="376.00" y2="399.40" class="grid"/>
<line x1="336.10" y1="279.48" x2="535.60" y2="279.48" class="grid"/>
<line x1="415.90" y1="249.50" x2="415.90" y2="399.40" class="grid"/>
<line x1="336.10" y1="309.46" x2="535.60" y2="309.46" class="grid"/>
<line x1="455.80" y1="249.50" x2="455.80" y2="399.40" class="grid"/>
<line x1="336.10" y1="339.44" x2="535.60" y2="339.44" class="grid"/>
<line x1="495.70" y1="249.50" x2="495.70" y2="399.40" class="grid"/>
<line x1="336.10" y1="369.42" x2="535.60" y2="369.42" class="grid"/>
<rect x="336.10" y="249.50" width="199.50" height="149.90" class="box"/>
<clipPath id="cp4"><rect x="335.10" y="248.50" width="201.50" height="151.90"/></clipPath>
<g clip-path="url(#cp4)" fill="none" stroke-width="1.40" stroke-linejoin="round" stroke-linecap="butt">
<path d="M336.10 399.40C336.40 398.10 337.30 395.00 337.90 391.61C338.49 388.21 339.16 383.24 339.69 379.01C340.22 374.79 340.62 370.82 341.09 366.27C341.55 361.73 342.12 356.88 342.48 351.73C342.85 346.59 342.82 339.99 343.28 335.39C343.75 330.80 344.55 327.77 345.28 324.15C346.01 320.53 346.57 316.31 347.67 313.66C348.77 311.01 350.70 309.56 351.86 308.26C353.02 306.96 353.79 307.21 354.65 305.86C355.52 304.51 355.92 302.34 357.05 300.17C358.18 297.99 359.94 295.24 361.44 292.82C362.93 290.40 364.50 288.05 366.03 285.63C367.55 283.20 368.88 280.40 370.61 278.28C372.34 276.16 374.60 274.16 376.40 272.88C378.19 271.61 379.03 271.56 381.39 270.64C383.75 269.71 387.84 268.19 390.56 267.34C393.29 266.49 393.52 266.69 397.75 265.54C401.97 264.39 409.55 261.79 415.90 260.44C422.25 259.09 429.20 258.24 435.85 257.44C442.50 256.65 449.15 256.17 455.80 255.65C462.45 255.12 469.10 254.77 475.75 254.30C482.40 253.82 489.05 253.22 495.70 252.80C502.35 252.37 509.00 252.30 515.65 251.75C522.30 251.20 532.28 249.87 535.60 249.50" stroke="#0072BD"/>
<path d="M336.10 399.40C336.53 398.53 337.93 396.28 338.69 394.15C339.46 392.03 340.29 390.71 340.69 386.66C341.09 382.61 340.89 375.39 341.09 369.87C341.29 364.35 341.55 358.68 341.89 353.53C342.22 348.38 342.62 343.89 343.08 338.99C343.55 334.09 343.91 329.42 344.68 324.15C345.44 318.88 346.67 312.28 347.67 307.36C348.67 302.44 349.33 298.57 350.66 294.62C351.99 290.67 353.96 286.85 355.65 283.68C357.35 280.50 359.18 278.16 360.84 275.58C362.50 273.01 364.00 269.91 365.63 268.24C367.26 266.56 368.82 266.54 370.61 265.54C372.41 264.54 373.67 263.29 376.40 262.24C379.13 261.19 383.41 260.04 386.97 259.24C390.53 258.44 392.92 258.12 397.75 257.44C402.57 256.77 409.55 255.75 415.90 255.20C422.25 254.65 429.20 254.47 435.85 254.15C442.50 253.82 449.15 253.52 455.80 253.25C462.45 252.97 469.10 252.75 475.75 252.50C482.40 252.25 489.05 252.00 495.70 251.75C502.35 251.50 509.00 251.37 515.65 251.00C522.30 250.62 532.28 249.75 535.60 249.50" stroke="#D95319"/>
<path d="M336.10 399.40C336.20 397.15 336.17 388.78 336.70 385.91C337.23 383.04 338.43 383.66 339.29 382.16C340.16 380.66 341.32 379.16 341.89 376.91C342.45 374.67 342.42 371.97 342.68 368.67C342.95 365.37 343.08 362.07 343.48 357.13C343.88 352.18 344.65 344.49 345.08 338.99C345.51 333.49 345.74 328.52 346.08 324.15C346.41 319.78 346.41 316.31 347.07 312.76C347.74 309.21 348.80 305.74 350.06 302.86C351.33 299.99 353.06 297.59 354.65 295.52C356.25 293.45 357.91 291.97 359.64 290.42C361.37 288.87 363.20 287.62 365.03 286.23C366.86 284.83 368.72 283.45 370.61 282.03C372.51 280.60 373.67 279.65 376.40 277.68C379.13 275.71 383.41 272.06 386.97 270.19C390.53 268.31 392.92 267.66 397.75 266.44C402.57 265.21 409.55 263.84 415.90 262.84C422.25 261.84 429.20 261.14 435.85 260.44C442.50 259.74 449.15 259.24 455.80 258.64C462.45 258.04 469.10 257.44 475.75 256.85C482.40 256.25 489.05 255.72 495.70 255.05C502.35 254.37 509.00 253.72 515.65 252.80C522.30 251.87 532.28 250.05 535.60 249.50" stroke="#EDB120"/>
<path d="M336.10 399.40C336.27 397.50 336.73 391.71 337.10 388.01C337.46 384.31 337.70 380.84 338.29 377.21C338.89 373.59 339.69 369.17 340.69 366.27C341.69 363.37 342.92 362.25 344.28 359.83C345.64 357.40 347.37 354.60 348.87 351.73C350.36 348.86 352.06 345.94 353.26 342.59C354.45 339.24 354.82 334.72 356.05 331.65C357.28 328.57 359.44 326.52 360.64 324.15C361.84 321.78 361.57 319.60 363.23 317.40C364.89 315.21 368.42 312.68 370.61 310.96C372.81 309.24 374.00 308.71 376.40 307.06C378.79 305.41 381.72 302.99 384.98 301.07C388.24 299.14 391.99 297.04 395.95 295.52C399.91 294.00 405.99 293.22 408.72 291.92C411.44 290.62 409.92 288.70 412.31 287.72C414.70 286.75 419.16 287.02 423.08 286.08C427.01 285.13 431.89 283.08 435.85 282.03C439.81 280.98 443.20 280.55 446.82 279.78C450.45 279.01 453.97 278.78 457.60 277.38C461.22 275.98 465.54 272.51 468.57 271.39C471.59 270.26 472.13 271.16 475.75 270.64C479.37 270.11 485.79 269.24 490.31 268.24C494.84 267.24 498.66 265.74 502.88 264.64C507.10 263.54 512.03 262.84 515.65 261.64C519.27 260.44 522.20 258.77 524.63 257.44C527.05 256.12 528.38 255.02 530.21 253.70C532.04 252.37 534.70 250.20 535.60 249.50" stroke="#7E2F8E"/>
<path d="M336.10 399.40C336.57 398.58 337.83 396.20 338.89 394.45C339.96 392.70 341.29 391.18 342.48 388.91C343.68 386.63 345.01 383.99 346.08 380.81C347.14 377.64 347.67 373.52 348.87 369.87C350.07 366.22 351.16 362.40 353.26 358.93C355.35 355.45 358.71 351.91 361.44 349.03C364.16 346.16 366.89 344.26 369.62 341.69C372.34 339.12 375.24 335.72 377.80 333.59C380.36 331.47 382.85 330.50 384.98 328.95C387.11 327.40 388.14 326.07 390.56 324.30C392.99 322.53 396.52 320.28 399.54 318.30C402.57 316.33 405.99 313.83 408.72 312.46C411.44 311.08 412.87 311.06 415.90 310.06C418.93 309.06 423.55 307.89 426.87 306.46C430.20 305.04 432.86 303.04 435.85 301.52C438.84 299.99 441.97 298.47 444.83 297.32C447.69 296.17 450.58 296.12 453.01 294.62C455.43 293.12 457.10 290.37 459.39 288.32C461.69 286.28 464.05 284.00 466.77 282.33C469.50 280.65 472.43 279.55 475.75 278.28C479.07 277.01 483.40 275.96 486.72 274.68C490.05 273.41 492.08 272.31 495.70 270.64C499.32 268.96 505.14 266.09 508.47 264.64C511.79 263.19 512.96 263.24 515.65 261.94C518.34 260.64 521.30 258.92 524.63 256.85C527.95 254.77 533.77 250.72 535.60 249.50" stroke="#77AC30"/>
<path d="M336.10 399.40C336.40 399.28 336.53 399.03 337.90 398.65C339.26 398.28 342.15 398.33 344.28 397.15C346.41 395.98 348.40 393.58 350.66 391.61C352.92 389.63 355.12 387.71 357.85 385.31C360.57 382.91 363.93 380.09 367.02 377.21C370.11 374.34 373.07 371.12 376.40 368.07C379.72 365.02 383.71 361.65 386.97 358.93C390.23 356.20 392.96 354.16 395.95 351.73C398.94 349.31 400.70 346.81 404.93 344.39C409.15 341.96 416.13 340.06 421.29 337.19C426.44 334.32 432.82 329.32 435.85 327.15C438.88 324.97 437.61 326.07 439.44 324.15C441.27 322.23 444.56 317.50 446.82 315.61C449.08 313.71 451.21 314.58 453.01 312.76C454.80 310.93 455.63 307.39 457.60 304.66C459.56 301.94 462.35 298.44 464.78 296.42C467.20 294.40 469.73 293.87 472.16 292.52C474.59 291.17 476.32 290.10 479.34 288.32C482.37 286.55 487.29 283.85 490.31 281.88C493.34 279.90 494.47 278.43 497.50 276.48C500.52 274.53 505.44 272.01 508.47 270.19C511.49 268.36 512.96 267.36 515.65 265.54C518.34 263.72 521.90 261.29 524.63 259.24C527.35 257.19 530.18 254.87 532.01 253.25C533.84 251.62 535.00 250.12 535.60 249.50" stroke="#41B8EC"/>
</g>
<line x1="336.10" y1="399.40" x2="336.10" y2="397.70" class="tick"/>
<line x1="336.10" y1="249.50" x2="336.10" y2="251.20" class="tick"/>
<line x1="336.10" y1="399.40" x2="337.80" y2="399.40" class="tick"/>
<line x1="535.60" y1="399.40" x2="533.90" y2="399.40" class="tick"/>
<text x="336.10" y="411.80" font-size="9.00" text-anchor="middle">0</text>
<text x="332.50" y="402.70" font-size="9.00" text-anchor="end">0</text>
<line x1="376.00" y1="399.40" x2="376.00" y2="397.70" class="tick"/>
<line x1="376.00" y1="249.50" x2="376.00" y2="251.20" class="tick"/>
<line x1="336.10" y1="369.42" x2="337.80" y2="369.42" class="tick"/>
<line x1="535.60" y1="369.42" x2="533.90" y2="369.42" class="tick"/>
<text x="376.00" y="411.80" font-size="9.00" text-anchor="middle">20</text>
<text x="332.50" y="372.72" font-size="9.00" text-anchor="end">20</text>
<line x1="415.90" y1="399.40" x2="415.90" y2="397.70" class="tick"/>
<line x1="415.90" y1="249.50" x2="415.90" y2="251.20" class="tick"/>
<line x1="336.10" y1="339.44" x2="337.80" y2="339.44" class="tick"/>
<line x1="535.60" y1="339.44" x2="533.90" y2="339.44" class="tick"/>
<text x="415.90" y="411.80" font-size="9.00" text-anchor="middle">40</text>
<text x="332.50" y="342.74" font-size="9.00" text-anchor="end">40</text>
<line x1="455.80" y1="399.40" x2="455.80" y2="397.70" class="tick"/>
<line x1="455.80" y1="249.50" x2="455.80" y2="251.20" class="tick"/>
<line x1="336.10" y1="309.46" x2="337.80" y2="309.46" class="tick"/>
<line x1="535.60" y1="309.46" x2="533.90" y2="309.46" class="tick"/>
<text x="455.80" y="411.80" font-size="9.00" text-anchor="middle">60</text>
<text x="332.50" y="312.76" font-size="9.00" text-anchor="end">60</text>
<line x1="495.70" y1="399.40" x2="495.70" y2="397.70" class="tick"/>
<line x1="495.70" y1="249.50" x2="495.70" y2="251.20" class="tick"/>
<line x1="336.10" y1="279.48" x2="337.80" y2="279.48" class="tick"/>
<line x1="535.60" y1="279.48" x2="533.90" y2="279.48" class="tick"/>
<text x="495.70" y="411.80" font-size="9.00" text-anchor="middle">80</text>
<text x="332.50" y="282.78" font-size="9.00" text-anchor="end">80</text>
<line x1="535.60" y1="399.40" x2="535.60" y2="397.70" class="tick"/>
<line x1="535.60" y1="249.50" x2="535.60" y2="251.20" class="tick"/>
<line x1="336.10" y1="249.50" x2="337.80" y2="249.50" class="tick"/>
<line x1="535.60" y1="249.50" x2="533.90" y2="249.50" class="tick"/>
<text x="535.60" y="411.80" font-size="9.00" text-anchor="middle">100</text>
<text x="332.50" y="252.80" font-size="9.00" text-anchor="end">100</text>
<text x="435.85" y="424.40" font-size="10.00" text-anchor="middle">P<tspan font-size="7.80" dy="4.8">FA</tspan><tspan dy="-4.8" dx="0.6"> (%)</tspan></text>
<text transform="translate(309.70 324.45) rotate(-90)" font-size="10.00" text-anchor="middle">P<tspan font-size="7.80" dy="4.8">D</tspan><tspan dy="-4.8" dx="0.6"> (%)</tspan></text>
<rect x="477.30" y="332.50" width="54.90" height="63.00" class="leg"/>
<line x1="479.30" y1="338.58" x2="493.20" y2="338.58" stroke="#0072BD" stroke-width="1.40"/>
<text x="494.50" y="341.64" font-size="8.60" class="lt">d = 1m</text>
<line x1="479.30" y1="348.75" x2="493.20" y2="348.75" stroke="#D95319" stroke-width="1.40"/>
<text x="494.50" y="351.80" font-size="8.60" class="lt">d = 50m</text>
<line x1="479.30" y1="358.92" x2="493.20" y2="358.92" stroke="#EDB120" stroke-width="1.40"/>
<text x="494.50" y="361.97" font-size="8.60" class="lt">d = 100m</text>
<line x1="479.30" y1="369.08" x2="493.20" y2="369.08" stroke="#7E2F8E" stroke-width="1.40"/>
<text x="494.50" y="372.14" font-size="8.60" class="lt">d = 200m</text>
<line x1="479.30" y1="379.25" x2="493.20" y2="379.25" stroke="#77AC30" stroke-width="1.40"/>
<text x="494.50" y="382.30" font-size="8.60" class="lt">d = 300m</text>
<line x1="479.30" y1="389.42" x2="493.20" y2="389.42" stroke="#41B8EC" stroke-width="1.40"/>
<text x="494.50" y="392.47" font-size="8.60" class="lt">d = 500m</text>
<text x="430.00" y="457.00" class="cap" text-anchor="middle"><tspan font-size="16">(</tspan><tspan font-weight="bold">d</tspan><tspan font-size="16">)</tspan></text>
</g>
<g class="e">
<rect x="190.00" y="499.50" width="200.50" height="149.90" fill="#fff"/>
<line x1="230.10" y1="499.50" x2="230.10" y2="649.40" class="grid"/>
<line x1="190.00" y1="529.48" x2="390.50" y2="529.48" class="grid"/>
<line x1="270.20" y1="499.50" x2="270.20" y2="649.40" class="grid"/>
<line x1="190.00" y1="559.46" x2="390.50" y2="559.46" class="grid"/>
<line x1="310.30" y1="499.50" x2="310.30" y2="649.40" class="grid"/>
<line x1="190.00" y1="589.44" x2="390.50" y2="589.44" class="grid"/>
<line x1="350.40" y1="499.50" x2="350.40" y2="649.40" class="grid"/>
<line x1="190.00" y1="619.42" x2="390.50" y2="619.42" class="grid"/>
<rect x="190.00" y="499.50" width="200.50" height="149.90" class="box"/>
<clipPath id="cp5"><rect x="189.00" y="498.50" width="202.50" height="151.90"/></clipPath>
<g clip-path="url(#cp5)" fill="none" stroke-width="1.15" stroke-linejoin="round" stroke-linecap="butt">
<path d="M191.00 645.50C191.20 645.35 191.70 647.03 192.21 644.60C192.71 642.18 193.31 635.36 194.01 630.96C194.71 626.57 195.58 622.17 196.42 618.22C197.25 614.27 198.12 610.63 199.02 607.28C199.92 603.93 200.89 601.48 201.83 598.13C202.77 594.79 203.57 590.24 204.64 587.19C205.71 584.14 207.51 581.97 208.25 579.85C208.98 577.72 208.58 576.92 209.05 574.45C209.52 571.98 210.12 568.10 211.05 565.01C211.99 561.91 213.46 558.91 214.66 555.86C215.86 552.81 216.77 549.62 218.27 546.72C219.77 543.82 221.65 540.75 223.68 538.47C225.72 536.20 228.23 534.90 230.50 533.08C232.77 531.25 234.95 529.06 237.32 527.53C239.69 526.01 241.70 525.36 244.74 523.93C247.78 522.51 251.92 520.36 255.56 518.99C259.21 517.61 262.95 516.99 266.59 515.69C270.23 514.39 273.47 512.44 277.42 511.19C281.36 509.94 284.77 509.17 290.25 508.19C295.73 507.22 303.62 506.22 310.30 505.35C316.98 504.47 323.67 503.60 330.35 502.95C337.03 502.30 343.72 501.87 350.40 501.45C357.08 501.02 363.77 500.72 370.45 500.40C377.13 500.07 387.16 499.65 390.50 499.50" stroke="#3A74D0"/>
<path d="M190.00 638.31C190.47 637.08 191.90 634.01 192.81 630.96C193.71 627.91 194.68 624.27 195.41 620.02C196.15 615.77 196.62 610.65 197.22 605.48C197.82 600.31 198.39 594.16 199.02 588.99C199.66 583.82 200.26 579.37 201.03 574.45C201.80 569.53 202.60 563.93 203.63 559.46C204.67 554.99 206.01 550.97 207.24 547.62C208.48 544.27 209.38 541.80 211.05 539.37C212.72 536.95 215.00 535.05 217.27 533.08C219.54 531.10 222.48 529.21 224.69 527.53C226.89 525.86 228.40 524.53 230.50 523.03C232.61 521.54 234.95 519.81 237.32 518.54C239.69 517.26 241.09 516.71 244.74 515.39C248.38 514.07 254.93 511.74 259.17 510.59C263.42 509.44 265.02 509.32 270.20 508.49C275.38 507.67 283.57 506.42 290.25 505.65C296.93 504.87 303.62 504.40 310.30 503.85C316.98 503.30 323.67 502.80 330.35 502.35C337.03 501.90 343.72 501.50 350.40 501.15C357.08 500.80 363.77 500.52 370.45 500.25C377.13 499.97 387.16 499.62 390.50 499.50" stroke="#D6602C"/>
<path d="M190.00 634.56C190.23 633.66 190.74 631.89 191.40 629.16C192.07 626.44 193.17 622.47 194.01 618.22C194.85 613.97 195.61 608.85 196.42 603.68C197.22 598.51 198.22 592.06 198.82 587.19C199.42 582.32 199.52 579.37 200.03 574.45C200.53 569.53 200.93 563.18 201.83 557.66C202.73 552.14 204.07 546.02 205.44 541.32C206.81 536.63 208.08 532.83 210.05 529.48C212.02 526.13 215.00 523.53 217.27 521.24C219.54 518.94 221.48 517.06 223.68 515.69C225.89 514.32 226.99 513.89 230.50 512.99C234.01 512.09 239.96 511.12 244.74 510.29C249.52 509.47 254.93 508.67 259.17 508.04C263.42 507.42 265.02 507.09 270.20 506.55C275.38 506.00 283.57 505.27 290.25 504.75C296.93 504.22 303.62 503.85 310.30 503.40C316.98 502.95 323.67 502.42 330.35 502.05C337.03 501.67 340.38 501.57 350.40 501.15C360.42 500.72 383.82 499.77 390.50 499.50" stroke="#EBB738"/>
<path d="M191.00 645.50C191.20 645.35 191.54 646.73 192.21 644.60C192.87 642.48 194.31 636.86 195.01 632.76C195.71 628.66 196.08 625.19 196.42 620.02C196.75 614.85 196.88 607.20 197.02 601.73C197.15 596.26 197.02 591.74 197.22 587.19C197.42 582.64 197.75 579.07 198.22 574.45C198.69 569.83 199.26 564.08 200.03 559.46C200.79 554.84 201.76 549.89 202.83 546.72C203.90 543.55 204.64 542.55 206.44 540.42C208.25 538.30 211.22 535.80 213.66 533.98C216.10 532.15 218.27 531.15 221.08 529.48C223.88 527.81 227.16 525.61 230.50 523.93C233.84 522.26 237.55 520.66 241.13 519.44C244.70 518.21 247.71 517.51 251.95 516.59C256.20 515.66 262.35 514.79 266.59 513.89C270.83 512.99 273.47 512.04 277.42 511.19C281.36 510.34 284.77 509.57 290.25 508.79C295.73 508.02 303.62 507.27 310.30 506.55C316.98 505.82 323.67 505.10 330.35 504.45C337.03 503.80 343.72 503.25 350.40 502.65C357.08 502.05 363.77 501.37 370.45 500.85C377.13 500.32 387.16 499.72 390.50 499.50" stroke="#813BA6"/>
<path d="M190.00 638.31C190.30 637.08 191.04 634.31 191.80 630.96C192.57 627.61 193.74 623.09 194.61 618.22C195.48 613.35 196.28 607.20 197.02 601.73C197.75 596.26 198.52 589.94 199.02 585.39C199.52 580.85 199.39 577.55 200.03 574.45C200.66 571.35 201.93 569.15 202.83 566.81C203.73 564.46 203.93 562.78 205.44 560.36C206.94 557.94 209.58 554.54 211.85 552.26C214.13 549.99 216.63 548.49 219.07 546.72C221.51 544.94 223.75 543.07 226.49 541.62C229.23 540.17 232.47 539.30 235.51 538.02C238.55 536.75 240.79 535.58 244.74 533.98C248.68 532.38 254.93 529.95 259.17 528.43C263.42 526.91 265.02 526.48 270.20 524.83C275.38 523.18 283.57 520.34 290.25 518.54C296.93 516.74 303.62 515.51 310.30 514.04C316.98 512.57 323.67 511.04 330.35 509.69C337.03 508.34 343.72 507.07 350.40 505.95C357.08 504.82 363.77 504.02 370.45 502.95C377.13 501.87 387.16 500.07 390.50 499.50" stroke="#7FB03E"/>
<path d="M190.00 636.51C190.37 635.28 191.30 631.91 192.21 629.16C193.11 626.42 194.41 623.07 195.41 620.02C196.42 616.97 197.15 613.60 198.22 610.88C199.29 608.15 200.46 606.25 201.83 603.68C203.20 601.11 204.77 598.03 206.44 595.44C208.11 592.84 209.75 590.51 211.85 588.09C213.96 585.67 216.77 583.17 219.07 580.90C221.38 578.62 223.65 576.57 225.69 574.45C227.73 572.33 228.73 570.03 231.30 568.15C233.88 566.28 237.69 565.26 241.13 563.21C244.57 561.16 248.31 558.16 251.95 555.86C255.60 553.56 259.94 551.09 262.98 549.42C266.02 547.74 267.16 547.32 270.20 545.82C273.24 544.32 277.89 542.10 281.23 540.42C284.57 538.75 285.40 538.22 290.25 535.78C295.10 533.33 303.62 528.78 310.30 525.73C316.98 522.68 323.67 519.91 330.35 517.49C337.03 515.06 343.72 513.32 350.40 511.19C357.08 509.07 365.27 506.27 370.45 504.75C375.63 503.22 378.14 502.92 381.48 502.05C384.82 501.17 389.00 499.92 390.50 499.50" stroke="#68C0F2"/>
</g>
<line x1="190.00" y1="649.40" x2="190.00" y2="647.70" class="tick"/>
<line x1="190.00" y1="499.50" x2="190.00" y2="501.20" class="tick"/>
<line x1="190.00" y1="649.40" x2="191.70" y2="649.40" class="tick"/>
<line x1="390.50" y1="649.40" x2="388.80" y2="649.40" class="tick"/>
<text x="190.00" y="661.40" font-size="8.70" text-anchor="middle">0</text>
<text x="186.40" y="652.70" font-size="8.70" text-anchor="end">0</text>
<line x1="230.10" y1="649.40" x2="230.10" y2="647.70" class="tick"/>
<line x1="230.10" y1="499.50" x2="230.10" y2="501.20" class="tick"/>
<line x1="190.00" y1="619.42" x2="191.70" y2="619.42" class="tick"/>
<line x1="390.50" y1="619.42" x2="388.80" y2="619.42" class="tick"/>
<text x="230.10" y="661.40" font-size="8.70" text-anchor="middle">20</text>
<text x="186.40" y="622.72" font-size="8.70" text-anchor="end">20</text>
<line x1="270.20" y1="649.40" x2="270.20" y2="647.70" class="tick"/>
<line x1="270.20" y1="499.50" x2="270.20" y2="501.20" class="tick"/>
<line x1="190.00" y1="589.44" x2="191.70" y2="589.44" class="tick"/>
<line x1="390.50" y1="589.44" x2="388.80" y2="589.44" class="tick"/>
<text x="270.20" y="661.40" font-size="8.70" text-anchor="middle">40</text>
<text x="186.40" y="592.74" font-size="8.70" text-anchor="end">40</text>
<line x1="310.30" y1="649.40" x2="310.30" y2="647.70" class="tick"/>
<line x1="310.30" y1="499.50" x2="310.30" y2="501.20" class="tick"/>
<line x1="190.00" y1="559.46" x2="191.70" y2="559.46" class="tick"/>
<line x1="390.50" y1="559.46" x2="388.80" y2="559.46" class="tick"/>
<text x="310.30" y="661.40" font-size="8.70" text-anchor="middle">60</text>
<text x="186.40" y="562.76" font-size="8.70" text-anchor="end">60</text>
<line x1="350.40" y1="649.40" x2="350.40" y2="647.70" class="tick"/>
<line x1="350.40" y1="499.50" x2="350.40" y2="501.20" class="tick"/>
<line x1="190.00" y1="529.48" x2="191.70" y2="529.48" class="tick"/>
<line x1="390.50" y1="529.48" x2="388.80" y2="529.48" class="tick"/>
<text x="350.40" y="661.40" font-size="8.70" text-anchor="middle">80</text>
<text x="186.40" y="532.78" font-size="8.70" text-anchor="end">80</text>
<line x1="390.50" y1="649.40" x2="390.50" y2="647.70" class="tick"/>
<line x1="390.50" y1="499.50" x2="390.50" y2="501.20" class="tick"/>
<line x1="190.00" y1="499.50" x2="191.70" y2="499.50" class="tick"/>
<line x1="390.50" y1="499.50" x2="388.80" y2="499.50" class="tick"/>
<text x="390.50" y="661.40" font-size="8.70" text-anchor="middle">100</text>
<text x="186.40" y="502.80" font-size="8.70" text-anchor="end">100</text>
<text x="290.25" y="674.40" font-size="9.70" text-anchor="middle">P<tspan font-size="7.60" dy="4.8">FA</tspan><tspan dy="-4.8" dx="0.6"> (%)</tspan></text>
<text transform="translate(163.60 574.45) rotate(-90)" font-size="9.70" text-anchor="middle">P<tspan font-size="7.60" dy="4.8">D</tspan><tspan dy="-4.8" dx="0.6"> (%)</tspan></text>
<rect x="339.60" y="581.50" width="45.80" height="63.00" class="leg"/>
<line x1="341.50" y1="587.58" x2="359.90" y2="587.58" stroke="#3A74D0" stroke-width="1.15"/>
<text x="361.70" y="590.35" font-size="7.80" class="lt">1 m</text>
<line x1="341.50" y1="597.75" x2="359.90" y2="597.75" stroke="#D6602C" stroke-width="1.15"/>
<text x="361.70" y="600.52" font-size="7.80" class="lt">50 m</text>
<line x1="341.50" y1="607.92" x2="359.90" y2="607.92" stroke="#EBB738" stroke-width="1.15"/>
<text x="361.70" y="610.69" font-size="7.80" class="lt">100 m</text>
<line x1="341.50" y1="618.08" x2="359.90" y2="618.08" stroke="#813BA6" stroke-width="1.15"/>
<text x="361.70" y="620.85" font-size="7.80" class="lt">200 m</text>
<line x1="341.50" y1="628.25" x2="359.90" y2="628.25" stroke="#7FB03E" stroke-width="1.15"/>
<text x="361.70" y="631.02" font-size="7.80" class="lt">300 m</text>
<line x1="341.50" y1="638.42" x2="359.90" y2="638.42" stroke="#68C0F2" stroke-width="1.15"/>
<text x="361.70" y="641.19" font-size="7.80" class="lt">500 m</text>
<text x="284.50" y="707.00" class="cap" text-anchor="middle"><tspan font-size="16">(</tspan><tspan font-weight="bold">e</tspan><tspan font-size="16">)</tspan></text>
</g>
</svg>
</body></html>
